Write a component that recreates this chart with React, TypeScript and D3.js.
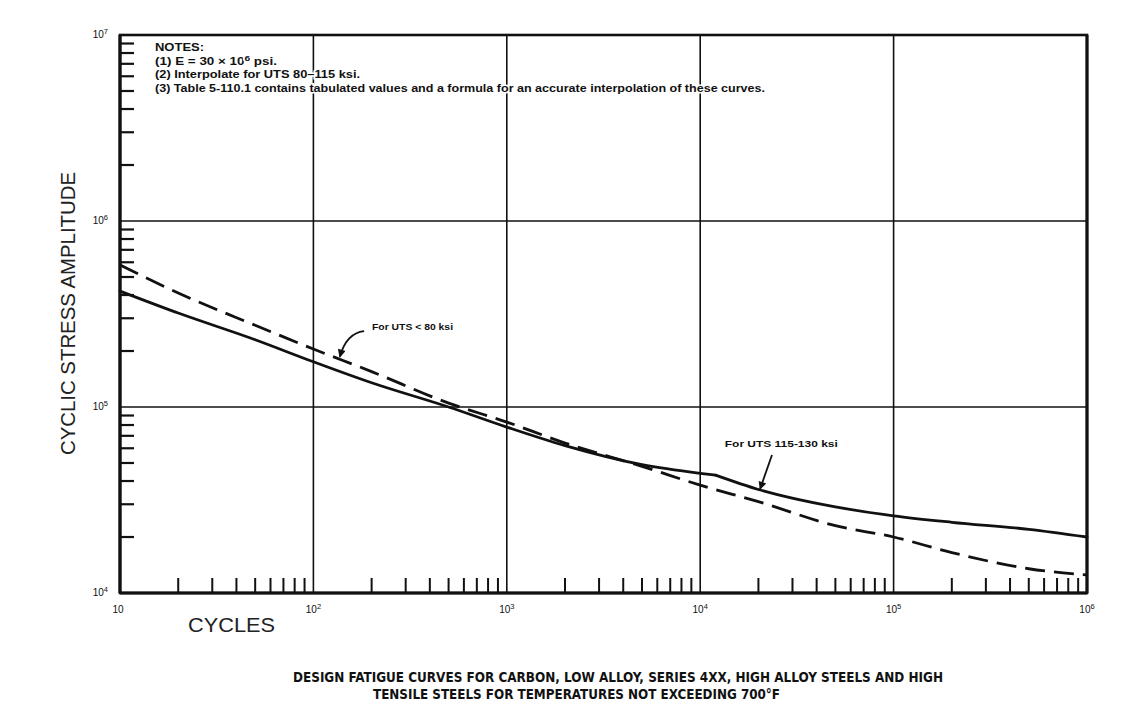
import React from 'react';
import * as d3 from 'd3';

// Design fatigue curves (ASME VIII-2 Fig. 5-110.1)
const cyclesHigh = [10, 20, 50, 100, 200, 500, 1000, 2000, 5000, 10000, 12000, 20000, 50000, 100000, 200000, 500000, 1000000];
const stressHigh = [420000, 320000, 230000, 175000, 135000, 100000, 78000, 62000, 49000, 44000, 43000, 36000, 29000, 26000, 24000, 22000, 20000];

const cyclesLow = [10, 20, 50, 100, 200, 500, 1000, 2000, 5000, 10000, 20000, 50000, 100000, 200000, 500000, 1000000];
const stressLow = [580000, 410000, 275000, 205000, 155000, 105000, 83000, 64000, 48000, 38000, 31000, 23000, 20000, 16500, 13500, 12500];

// the UTS 115-130 curve has a corner at this cycle count
const kneeCycles = 12000;

const xMajor = [10, 100, 1000, 10000, 100000, 1000000];
const xExponents = ['', '2', '3', '4', '5', '6'];
const yMajor = [10000, 100000, 1000000, 10000000];
const yExponents = ['4', '5', '6', '7'];

const notes = [
  'NOTES:',
  '(2) Interpolate for UTS 80–115 ksi.',
  '(3) Table 5-110.1 contains tabulated values and a formula for an accurate interpolation of these curves.',
];
const notesWidth = [49, 205, 610];

const caption = [
  'DESIGN FATIGUE CURVES FOR CARBON, LOW ALLOY, SERIES 4XX, HIGH ALLOY STEELS AND HIGH',
  'TENSILE STEELS FOR TEMPERATURES NOT EXCEEDING 700°F',
];

const W = 1125;
const H = 722;
const plot = { left: 120, right: 1087, top: 35, bottom: 593 };

export default function App() {
  const x = d3.scaleLog().domain([10, 1e6]).range([plot.left, plot.right]);
  const y = d3.scaleLog().domain([1e4, 1e7]).range([plot.bottom, plot.top]);

  const line = d3.line<[number, number]>()
    .x(d => x(d[0]))
    .y(d => y(d[1]))
    .curve(d3.curveMonotoneX);

  const highPts = cyclesHigh.map((c, i) => [c, stressHigh[i]] as [number, number]);
  const lowPts = cyclesLow.map((c, i) => [c, stressLow[i]] as [number, number]);
  const highA = highPts.filter(d => d[0] <= kneeCycles);
  const highB = highPts.filter(d => d[0] >= kneeCycles);

  const isPow10 = (v: number) => Math.abs(Math.log10(v) - Math.round(Math.log10(v))) < 1e-9;
  const xMinor = x.ticks().filter(v => !isPow10(v));
  const yMinor = y.ticks().filter(v => !isPow10(v));

  // annotation anchors in data units
  const a1 = { textN: 201, textS: 259000, startN: 183, startS: 256000, ctrlN: 148, ctrlS: 250000, tipN: 137, tipS: 186000 };
  const a2 = { textN: 13400, textS: 61000, startN: 23500, startS: 55200, tipN: 20400, tipS: 36200 };

  const ink = '#111';
  const font = 'Arial, "Liberation Sans", sans-serif';
  const capFont = '"DejaVu Sans Condensed", "DejaVu Sans", sans-serif';

  return (
    <svg width={W} height={H} style={{ position: 'absolute', left: 0, top: 0, background: '#fff' }}>
      <defs>
        <marker id="arrow" viewBox="0 0 10 10" refX="9" refY="5" markerWidth="11" markerHeight="8"
          markerUnits="userSpaceOnUse" orient="auto">
          <path d="M0,0 L10,5 L0,10 z" fill={ink} />
        </marker>
      </defs>
      <rect width={W} height={H} fill="#fff" />

      {/* grid */}
      {xMajor.slice(1, -1).map(v => (
        <line key={'gx' + v} x1={x(v)} x2={x(v)} y1={plot.top} y2={plot.bottom} stroke={ink} strokeWidth={1.6} />
      ))}
      {yMajor.slice(1, -1).map(v => (
        <line key={'gy' + v} x1={plot.left} x2={plot.right} y1={y(v)} y2={y(v)} stroke={ink} strokeWidth={1.6} />
      ))}

      {/* minor ticks */}
      {xMinor.map(v => (
        <line key={'mx' + v} x1={x(v)} x2={x(v)} y1={plot.bottom} y2={plot.bottom - 15} stroke={ink} strokeWidth={2} />
      ))}
      {yMinor.map(v => (
        <line key={'my' + v} x1={plot.left} x2={plot.left + 14} y1={y(v)} y2={y(v)} stroke={ink} strokeWidth={2.2} />
      ))}

      {/* frame */}
      <rect x={plot.left} y={plot.top} width={plot.right - plot.left} height={plot.bottom - plot.top}
        fill="none" stroke={ink} strokeWidth={2.6} />
      <line x1={plot.left} x2={plot.left} y1={plot.top} y2={plot.bottom} stroke={ink} strokeWidth={3.2} />
      <line x1={plot.left} x2={plot.right} y1={plot.bottom} y2={plot.bottom} stroke={ink} strokeWidth={3.2} />
      <line x1={plot.right} x2={plot.right} y1={plot.top} y2={plot.bottom} stroke={ink} strokeWidth={3} />

      {/* notes */}
      <g fontFamily={font} fontWeight="bold" fontSize={10} fill={ink} stroke="#fff" strokeWidth={3} paintOrder="stroke">
        <text x={155} y={51} textLength={notesWidth[0]} lengthAdjust="spacingAndGlyphs">{notes[0]}</text>
        <text x={155} y={64.7} textLength={122} lengthAdjust="spacingAndGlyphs">
          (1) E = 30 × 10<tspan fontSize={7.5} dy={-4}>6</tspan><tspan dy={4}> psi.</tspan>
        </text>
        <text x={155} y={78.4} textLength={notesWidth[1]} lengthAdjust="spacingAndGlyphs">{notes[1]}</text>
        <text x={155} y={92.1} textLength={notesWidth[2]} lengthAdjust="spacingAndGlyphs">{notes[2]}</text>
      </g>

      {/* curves */}
      <path d={line(lowPts) || ''} fill="none" stroke={ink} strokeWidth={2.8} strokeDasharray="20,9" />
      <path d={line(highA) || ''} fill="none" stroke={ink} strokeWidth={2.8} strokeLinejoin="round" strokeLinecap="round" />
      <path d={line(highB) || ''} fill="none" stroke={ink} strokeWidth={2.8} strokeLinejoin="round" strokeLinecap="round" />

      {/* annotations */}
      <text x={x(a1.textN)} y={y(a1.textS)} fontFamily={font} fontWeight="bold" fontSize={9.5} fill={ink}
        textLength={81} lengthAdjust="spacingAndGlyphs">For UTS &lt; 80 ksi</text>
      <path d={`M${x(a1.startN)},${y(a1.startS)} Q${x(a1.ctrlN)},${y(a1.ctrlS)} ${x(a1.tipN)},${y(a1.tipS)}`}
        fill="none" stroke={ink} strokeWidth={1.8} markerEnd="url(#arrow)" />
      <text x={x(a2.textN)} y={y(a2.textS)} fontFamily={font} fontWeight="bold" fontSize={9.5} fill={ink}
        textLength={113} lengthAdjust="spacingAndGlyphs">For UTS 115-130 ksi</text>
      <line x1={x(a2.startN)} y1={y(a2.startS)} x2={x(a2.tipN)} y2={y(a2.tipS)}
        stroke={ink} strokeWidth={1.8} markerEnd="url(#arrow)" />

      {/* x tick labels */}
      {xMajor.map((v, i) => (
        <text key={'xl' + v} x={x(v) - (i === 0 ? 2 : 0)} y={613} textAnchor="middle" fontFamily={font}
          fontSize={10} fill={ink}>
          10
          {xExponents[i] && <tspan fontSize={7.5} dy={-4}>{xExponents[i]}</tspan>}
        </text>
      ))}

      {/* y tick labels */}
      {yMajor.map((v, i) => (
        <text key={'yl' + v} x={108} y={y(v) + 3} textAnchor="end" fontFamily={font} fontSize={10} fill={ink}>
          10
          <tspan fontSize={7.5} dy={-4}>{yExponents[i]}</tspan>
        </text>
      ))}

      {/* axis titles */}
      <text transform={`translate(75,${(172 + 455) / 2}) rotate(-90)`} textAnchor="middle"
        fontFamily={font} fontSize={21} fill="#222" textLength={283} lengthAdjust="spacingAndGlyphs">
        CYCLIC STRESS AMPLITUDE
      </text>
      <text x={188} y={632} fontFamily={font} fontSize={21} fill="#222" textLength={87}
        lengthAdjust="spacingAndGlyphs">CYCLES</text>

      {/* caption */}
      <text x={(293 + 943) / 2} y={682} textAnchor="middle" fontFamily={capFont}
        fontStretch="condensed" fontWeight="bold" fontSize={14} fill={ink} textLength={650}
        lengthAdjust="spacingAndGlyphs">{caption[0]}</text>
      <text x={(373 + 780) / 2} y={699} textAnchor="middle" fontFamily={capFont}
        fontStretch="condensed" fontWeight="bold" fontSize={14} fill={ink} textLength={407}
        lengthAdjust="spacingAndGlyphs">{caption[1]}</text>
    </svg>
  );
}
